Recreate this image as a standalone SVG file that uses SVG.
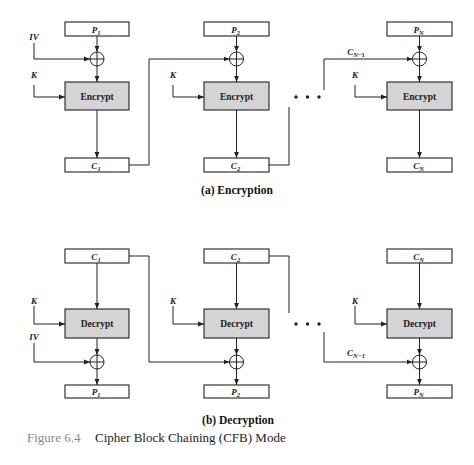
<svg xmlns="http://www.w3.org/2000/svg" width="474" height="465" viewBox="0 0 474 465">
<defs>
<marker id="ah" viewBox="0 0 10 10" refX="10" refY="5" markerWidth="6" markerHeight="6" orient="auto" markerUnits="userSpaceOnUse">
<path d="M0,1 L10,5 L0,9 Z" fill="#222"/>
</marker>
<g id="xor"><circle cx="0" cy="0" r="7" fill="#fff" stroke="#222" stroke-width="1"/><path d="M-7,0 H7 M0,-7 V7" stroke="#222" stroke-width="1"/></g>
</defs>
<style>
.box{fill:#fff;stroke:#222;stroke-width:1.1}
.op{fill:#d4d4d4;stroke:#222;stroke-width:1.1}
.ln{fill:none;stroke:#222;stroke-width:1}
.ar{fill:none;stroke:#222;stroke-width:1;marker-end:url(#ah)}
.t{font-family:"Liberation Serif",serif;font-size:9px;font-weight:bold;font-style:italic;fill:#222;text-anchor:middle}
.s{font-size:6.5px}
.op-t{font-family:"Liberation Serif",serif;font-size:9.5px;font-weight:bold;fill:#222;text-anchor:middle}
.cap{font-family:"Liberation Serif",serif;font-size:11.5px;font-weight:bold;fill:#111;text-anchor:middle}
.dot{fill:#222}
</style>
<rect width="474" height="465" fill="#fff"/>

<g id="connectors">
<!-- Encryption -->
<path class="ar" d="M97,36 V52"/>
<path class="ar" d="M97,66 V82"/>
<path class="ar" d="M97,110 V158"/>
<path class="ar" d="M34,43 V59 H90"/>
<path class="ar" d="M34,85 V97 H65"/>
<path class="ar" d="M129,165 H149 V59 H229.5"/>
<path class="ar" d="M236.5,36 V52"/>
<path class="ar" d="M236.5,66 V82"/>
<path class="ar" d="M236.5,110 V158"/>
<path class="ar" d="M173,85 V97 H204"/>
<path class="ln" d="M269,165 H289 V107"/>
<path class="ar" d="M324,90 V59 H412.5"/>
<path class="ar" d="M419.5,36 V52"/>
<path class="ar" d="M419.5,66 V82"/>
<path class="ar" d="M419.5,110 V158"/>
<path class="ar" d="M355,85 V97 H387"/>
<!-- Decryption -->
<path class="ar" d="M97,263 V309"/>
<path class="ar" d="M97,338 V355"/>
<path class="ar" d="M97,369 V385"/>
<path class="ar" d="M34,306 V324 H65"/>
<path class="ar" d="M34,343 V362 H90"/>
<path class="ar" d="M129,256 H149 V362 H229.5"/>
<path class="ar" d="M236.5,263 V309"/>
<path class="ar" d="M236.5,338 V355"/>
<path class="ar" d="M236.5,369 V385"/>
<path class="ar" d="M173,306 V324 H204"/>
<path class="ln" d="M269,256 H289 V313"/>
<path class="ar" d="M324,332 V362 H412.5"/>
<path class="ar" d="M419.5,263 V309"/>
<path class="ar" d="M419.5,338 V355"/>
<path class="ar" d="M419.5,369 V385"/>
<path class="ar" d="M355,306 V324 H387"/>
</g>

<g id="dots-enc"><circle class="dot" cx="296" cy="97" r="1.7"/><circle class="dot" cx="307.5" cy="97" r="1.7"/><circle class="dot" cx="319" cy="97" r="1.7"/></g>
<g id="dots-dec"><circle class="dot" cx="296" cy="324" r="1.7"/><circle class="dot" cx="307.5" cy="324" r="1.7"/><circle class="dot" cx="319" cy="324" r="1.7"/></g>

<!-- Labels -->
<g id="labels">
<text class="t" x="34" y="40">IV</text>
<text class="t" x="34" y="78">K</text>
<text class="t" x="173" y="78">K</text>
<text class="t" x="355" y="78">K</text>
<text class="t" x="356" y="55">C<tspan class="s" dy="2">N</tspan><tspan class="s" font-style="normal">−1</tspan></text>
<text class="t" x="34" y="304">K</text>
<text class="t" x="34" y="340">IV</text>
<text class="t" x="173" y="304">K</text>
<text class="t" x="355" y="304">K</text>
<text class="t" x="356" y="356" font-style="normal">C<tspan class="s" dy="2" font-style="italic">N</tspan><tspan class="s">−1</tspan></text>
</g>

<!-- Encryption nodes -->
<g id="P1"><rect class="box" x="65" y="22" width="64" height="14"/><text class="t" x="96" y="32.5">P<tspan class="s" dy="2">1</tspan></text></g>
<g id="X1"><use href="#xor" x="97" y="59"/></g>
<g id="E1"><rect class="op" x="65" y="82" width="64" height="28"/><text class="op-t" x="97" y="99.5">Encrypt</text></g>
<g id="C1"><rect class="box" x="65" y="158" width="64" height="14"/><text class="t" x="96" y="168.5">C<tspan class="s" dy="2">1</tspan></text></g>

<g id="P2"><rect class="box" x="204" y="22" width="65" height="14"/><text class="t" x="235.5" y="32.5">P<tspan class="s" dy="2">2</tspan></text></g>
<g id="X2"><use href="#xor" x="236.5" y="59"/></g>
<g id="E2"><rect class="op" x="204" y="82" width="65" height="28"/><text class="op-t" x="236.5" y="99.5">Encrypt</text></g>
<g id="C2"><rect class="box" x="204" y="158" width="65" height="14"/><text class="t" x="235.5" y="168.5">C<tspan class="s" dy="2">2</tspan></text></g>

<g id="PN"><rect class="box" x="387" y="22" width="65" height="14"/><text class="t" x="418.5" y="32.5">P<tspan class="s" dy="2">N</tspan></text></g>
<g id="XN"><use href="#xor" x="419.5" y="59"/></g>
<g id="EN"><rect class="op" x="387" y="82" width="65" height="28"/><text class="op-t" x="419.5" y="99.5">Encrypt</text></g>
<g id="CN"><rect class="box" x="387" y="158" width="65" height="14"/><text class="t" x="418.5" y="168.5">C<tspan class="s" dy="2">N</tspan></text></g>

<text class="cap" x="237" y="194">(a) Encryption</text>

<!-- Decryption nodes -->
<g id="dC1"><rect class="box" x="65" y="249" width="64" height="14"/><text class="t" x="96" y="259.5">C<tspan class="s" dy="2">1</tspan></text></g>
<g id="D1"><rect class="op" x="65" y="309" width="64" height="29"/><text class="op-t" x="97" y="327">Decrypt</text></g>
<g id="dX1"><use href="#xor" x="97" y="362"/></g>
<g id="dP1"><rect class="box" x="65" y="385" width="64" height="13"/><text class="t" x="96" y="395">P<tspan class="s" dy="2">1</tspan></text></g>

<g id="dC2"><rect class="box" x="204" y="249" width="65" height="14"/><text class="t" x="235.5" y="259.5">C<tspan class="s" dy="2">2</tspan></text></g>
<g id="D2"><rect class="op" x="204" y="309" width="65" height="29"/><text class="op-t" x="236.5" y="327">Decrypt</text></g>
<g id="dX2"><use href="#xor" x="236.5" y="362"/></g>
<g id="dP2"><rect class="box" x="204" y="385" width="65" height="13"/><text class="t" x="235.5" y="395">P<tspan class="s" dy="2">2</tspan></text></g>

<g id="dCN"><rect class="box" x="387" y="249" width="65" height="14"/><text class="t" x="418.5" y="259.5">C<tspan class="s" dy="2">N</tspan></text></g>
<g id="DN"><rect class="op" x="387" y="309" width="65" height="29"/><text class="op-t" x="419.5" y="327">Decrypt</text></g>
<g id="dXN"><use href="#xor" x="419.5" y="362"/></g>
<g id="dPN"><rect class="box" x="387" y="385" width="65" height="13"/><text class="t" x="418.5" y="395">P<tspan class="s" dy="2">N</tspan></text></g>

<text class="cap" x="238" y="424">(b) Decryption</text>
<text x="27" y="442" font-family="Liberation Serif, serif" font-size="13" fill="#888">Figure 6.4</text>
<text x="95" y="442" font-family="Liberation Serif, serif" font-size="13" fill="#222">Cipher Block Chaining (CFB) Mode</text>
</svg>
